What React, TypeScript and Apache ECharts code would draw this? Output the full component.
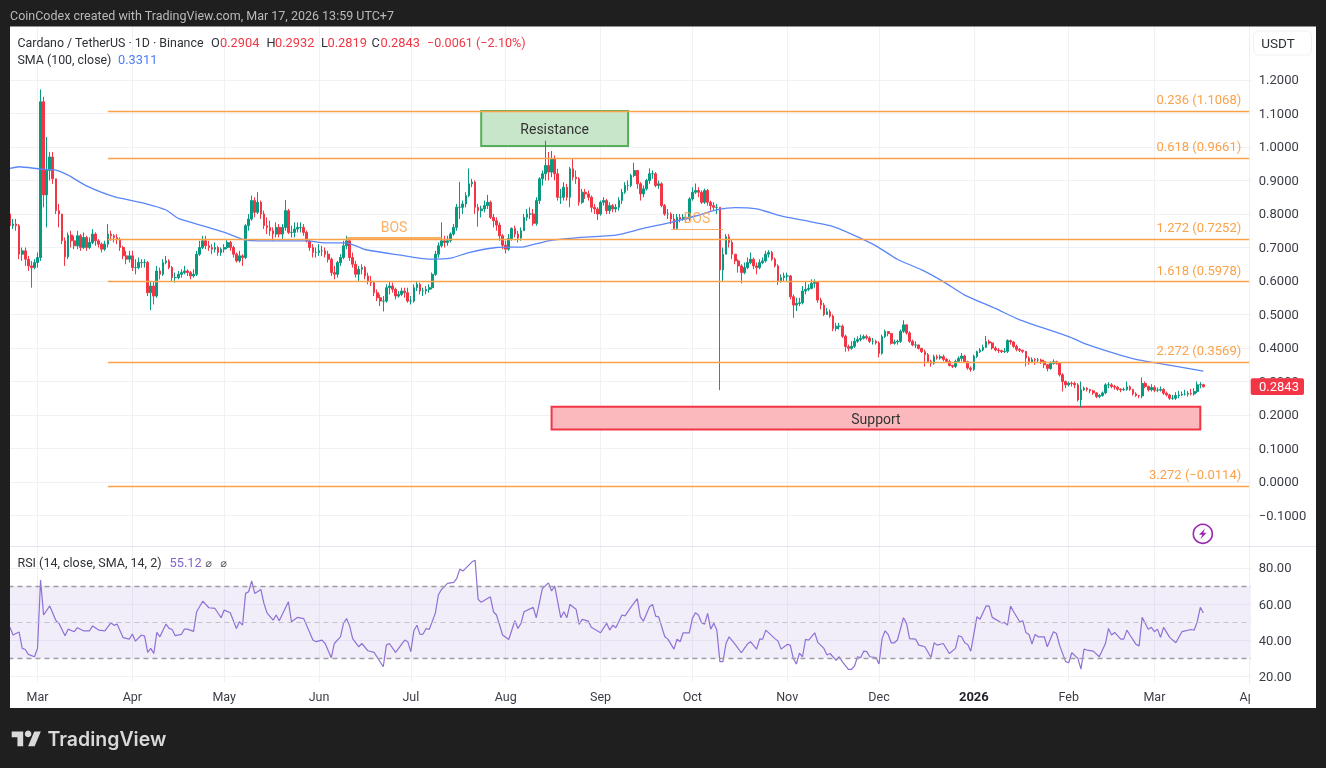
import React, { useEffect, useRef } from "react";
import * as echarts from "echarts";

// ---- Time scale ----
const firstDayUtc = Date.UTC(2025, 1, 20);
const dayCount = 406;
const monthTicks = [9, 40, 70, 101, 131, 162, 193, 223, 254, 284, 315, 346, 374, 405];
const monthLabels = ["Mar", "Apr", "May", "Jun", "Jul", "Aug", "Sep", "Oct", "Nov", "Dec", "2026", "Feb", "Mar", "Apr"];

// ---- Candles, one value a day from Feb 20 2025 ----
const firstOpen = 0.8;
const closes = [
  0.765, 0.77, 0.765, 0.68, 0.69, 0.665, 0.645, 0.64, 0.655, 0.67,
  1.135, 0.857, 0.93, 0.97, 0.905, 0.81, 0.8, 0.72, 0.672, 0.737,
  0.72, 0.705, 0.735, 0.7, 0.73, 0.7, 0.715, 0.74, 0.72, 0.71,
  0.695, 0.71, 0.74, 0.735, 0.73, 0.725, 0.7, 0.675, 0.665, 0.675,
  0.64, 0.64, 0.655, 0.655, 0.655, 0.565, 0.585, 0.555, 0.63, 0.62,
  0.655, 0.66, 0.64, 0.61, 0.61, 0.62, 0.625, 0.63, 0.625, 0.615,
  0.62, 0.68, 0.7, 0.72, 0.705, 0.7, 0.695, 0.7, 0.685, 0.695,
  0.7, 0.715, 0.7, 0.68, 0.66, 0.675, 0.67, 0.765, 0.785, 0.84,
  0.805, 0.835, 0.8, 0.765, 0.76, 0.75, 0.74, 0.76, 0.74, 0.76,
  0.81, 0.745, 0.745, 0.755, 0.76, 0.76, 0.745, 0.72, 0.7, 0.685,
  0.685, 0.69, 0.69, 0.68, 0.665, 0.625, 0.62, 0.655, 0.67, 0.705,
  0.72, 0.67, 0.65, 0.62, 0.635, 0.64, 0.615, 0.6, 0.595, 0.565,
  0.55, 0.54, 0.54, 0.58, 0.585, 0.575, 0.555, 0.56, 0.57, 0.565,
  0.54, 0.54, 0.58, 0.59, 0.57, 0.57, 0.575, 0.58, 0.62, 0.68,
  0.705, 0.72, 0.715, 0.72, 0.74, 0.76, 0.82, 0.82, 0.83, 0.855,
  0.89, 0.895, 0.82, 0.81, 0.815, 0.825, 0.835, 0.79, 0.78, 0.767,
  0.735, 0.707, 0.695, 0.727, 0.757, 0.74, 0.728, 0.75, 0.79, 0.8,
  0.8, 0.772, 0.84, 0.905, 0.92, 0.945, 0.925, 0.965, 0.92, 0.85,
  0.85, 0.88, 0.85, 0.935, 0.91, 0.905, 0.835, 0.865, 0.86, 0.85,
  0.82, 0.815, 0.8, 0.835, 0.84, 0.81, 0.825, 0.815, 0.82, 0.84,
  0.865, 0.885, 0.885, 0.915, 0.93, 0.89, 0.86, 0.875, 0.9, 0.92,
  0.92, 0.885, 0.89, 0.825, 0.8, 0.8, 0.785, 0.757, 0.79, 0.785,
  0.79, 0.785, 0.845, 0.865, 0.87, 0.865, 0.835, 0.87, 0.835, 0.825,
  0.82, 0.82, 0.633, 0.68, 0.732, 0.715, 0.68, 0.66, 0.645, 0.625,
  0.64, 0.655, 0.665, 0.645, 0.64, 0.655, 0.66, 0.68, 0.685, 0.665,
  0.645, 0.6, 0.61, 0.615, 0.615, 0.553, 0.528, 0.533, 0.535, 0.57,
  0.575, 0.578, 0.593, 0.598, 0.543, 0.528, 0.5, 0.508, 0.495, 0.458,
  0.465, 0.465, 0.435, 0.404, 0.399, 0.405, 0.42, 0.425, 0.429, 0.434,
  0.43, 0.42, 0.42, 0.415, 0.384, 0.434, 0.449, 0.443, 0.414, 0.418,
  0.42, 0.45, 0.469, 0.445, 0.42, 0.409, 0.409, 0.399, 0.389, 0.38,
  0.36, 0.354, 0.374, 0.37, 0.374, 0.366, 0.36, 0.348, 0.345, 0.36,
  0.369, 0.376, 0.359, 0.34, 0.336, 0.375, 0.389, 0.394, 0.402, 0.419,
  0.415, 0.4, 0.394, 0.392, 0.389, 0.39, 0.422, 0.418, 0.405, 0.396,
  0.393, 0.39, 0.37, 0.359, 0.365, 0.364, 0.364, 0.36, 0.35, 0.339,
  0.354, 0.359, 0.354, 0.32, 0.3, 0.29, 0.295, 0.294, 0.29, 0.245,
  0.275, 0.28, 0.276, 0.272, 0.266, 0.255, 0.258, 0.266, 0.29, 0.29,
  0.285, 0.283, 0.277, 0.275, 0.276, 0.284, 0.276, 0.263, 0.258, 0.257,
  0.294, 0.285, 0.275, 0.282, 0.274, 0.274, 0.276, 0.265, 0.26, 0.25,
  0.25, 0.258, 0.26, 0.262, 0.262, 0.265, 0.263, 0.27, 0.29, 0.2904,
  0.2843,
];
const highs = [
  0.81, 0.785, 0.785, 0.77, 0.7, 0.7, 0.675, 0.66, 0.665, 0.685,
  1.172, 1.15, 1.03, 0.985, 0.985, 0.905, 0.83, 0.8, 0.73, 0.745,
  0.75, 0.735, 0.75, 0.74, 0.745, 0.735, 0.73, 0.755, 0.745, 0.725,
  0.715, 0.72, 0.77, 0.75, 0.74, 0.74, 0.73, 0.705, 0.69, 0.69,
  0.69, 0.665, 0.67, 0.665, 0.665, 0.66, 0.6, 0.6, 0.645, 0.64,
  0.665, 0.675, 0.665, 0.645, 0.625, 0.63, 0.635, 0.645, 0.635, 0.63,
  0.635, 0.69, 0.72, 0.735, 0.735, 0.72, 0.71, 0.715, 0.705, 0.7,
  0.71, 0.725, 0.72, 0.705, 0.685, 0.69, 0.68, 0.77, 0.8, 0.855,
  0.85, 0.865, 0.84, 0.81, 0.79, 0.78, 0.76, 0.775, 0.77, 0.77,
  0.842, 0.815, 0.765, 0.775, 0.775, 0.775, 0.77, 0.75, 0.725, 0.71,
  0.7, 0.71, 0.705, 0.7, 0.69, 0.67, 0.645, 0.66, 0.68, 0.72,
  0.735, 0.725, 0.685, 0.66, 0.645, 0.65, 0.645, 0.625, 0.615, 0.6,
  0.575, 0.56, 0.555, 0.59, 0.6, 0.595, 0.58, 0.57, 0.58, 0.58,
  0.58, 0.555, 0.59, 0.6, 0.595, 0.58, 0.585, 0.59, 0.625, 0.69,
  0.715, 0.775, 0.735, 0.735, 0.745, 0.77, 0.83, 0.896, 0.84, 0.865,
  0.936, 0.905, 0.9, 0.83, 0.825, 0.84, 0.857, 0.84, 0.8, 0.79,
  0.775, 0.74, 0.72, 0.74, 0.76, 0.765, 0.75, 0.76, 0.8, 0.815,
  0.82, 0.815, 0.85, 0.91, 0.93, 1.019, 0.985, 0.988, 0.975, 0.935,
  0.875, 0.895, 0.89, 0.94, 0.964, 0.93, 0.91, 0.875, 0.875, 0.87,
  0.855, 0.83, 0.82, 0.84, 0.85, 0.845, 0.835, 0.83, 0.83, 0.85,
  0.875, 0.895, 0.9, 0.92, 0.953, 0.93, 0.895, 0.885, 0.905, 0.936,
  0.93, 0.925, 0.9, 0.895, 0.83, 0.815, 0.805, 0.8, 0.8, 0.8,
  0.8, 0.8, 0.85, 0.88, 0.891, 0.88, 0.87, 0.876, 0.875, 0.84,
  0.835, 0.83, 0.82, 0.7, 0.74, 0.74, 0.725, 0.68, 0.665, 0.65,
  0.655, 0.67, 0.685, 0.67, 0.655, 0.665, 0.67, 0.69, 0.692, 0.69,
  0.67, 0.65, 0.62, 0.625, 0.625, 0.618, 0.56, 0.55, 0.55, 0.585,
  0.6, 0.59, 0.605, 0.605, 0.6, 0.55, 0.535, 0.52, 0.515, 0.5,
  0.475, 0.475, 0.47, 0.44, 0.41, 0.42, 0.43, 0.435, 0.44, 0.44,
  0.44, 0.435, 0.43, 0.425, 0.42, 0.44, 0.455, 0.45, 0.445, 0.425,
  0.425, 0.455, 0.483, 0.47, 0.45, 0.425, 0.42, 0.41, 0.4, 0.395,
  0.385, 0.365, 0.38, 0.38, 0.38, 0.38, 0.37, 0.365, 0.35, 0.365,
  0.375, 0.385, 0.38, 0.362, 0.345, 0.38, 0.392, 0.4, 0.41, 0.436,
  0.425, 0.418, 0.405, 0.4, 0.395, 0.4, 0.426, 0.425, 0.42, 0.41,
  0.4, 0.395, 0.39, 0.375, 0.372, 0.37, 0.37, 0.368, 0.365, 0.352,
  0.36, 0.366, 0.362, 0.355, 0.325, 0.303, 0.3, 0.3, 0.3, 0.295,
  0.3, 0.285, 0.283, 0.278, 0.275, 0.268, 0.262, 0.27, 0.295, 0.298,
  0.295, 0.29, 0.286, 0.28, 0.282, 0.3, 0.288, 0.278, 0.268, 0.26,
  0.312, 0.3, 0.288, 0.292, 0.288, 0.282, 0.285, 0.28, 0.27, 0.263,
  0.26, 0.268, 0.272, 0.27, 0.275, 0.272, 0.278, 0.28, 0.3, 0.298,
  0.2932,
];
const lows = [
  0.755, 0.755, 0.75, 0.665, 0.66, 0.645, 0.63, 0.58, 0.635, 0.64,
  0.66, 0.82, 0.76, 0.9, 0.89, 0.8, 0.76, 0.71, 0.645, 0.665,
  0.7, 0.695, 0.695, 0.69, 0.695, 0.69, 0.695, 0.71, 0.705, 0.7,
  0.685, 0.69, 0.7, 0.72, 0.715, 0.71, 0.69, 0.665, 0.65, 0.655,
  0.63, 0.62, 0.635, 0.64, 0.64, 0.555, 0.513, 0.53, 0.55, 0.605,
  0.615, 0.65, 0.635, 0.6, 0.595, 0.605, 0.61, 0.62, 0.615, 0.605,
  0.61, 0.615, 0.675, 0.695, 0.695, 0.69, 0.68, 0.685, 0.675, 0.675,
  0.685, 0.695, 0.69, 0.67, 0.655, 0.655, 0.645, 0.665, 0.75, 0.78,
  0.79, 0.8, 0.785, 0.755, 0.74, 0.735, 0.72, 0.73, 0.73, 0.725,
  0.75, 0.74, 0.73, 0.73, 0.745, 0.745, 0.735, 0.715, 0.69, 0.67,
  0.67, 0.675, 0.675, 0.67, 0.655, 0.615, 0.605, 0.61, 0.645, 0.665,
  0.695, 0.66, 0.64, 0.61, 0.6, 0.62, 0.605, 0.59, 0.585, 0.555,
  0.54, 0.525, 0.509, 0.535, 0.56, 0.565, 0.545, 0.55, 0.555, 0.55,
  0.535, 0.53, 0.535, 0.57, 0.56, 0.555, 0.56, 0.565, 0.575, 0.615,
  0.67, 0.7, 0.7, 0.705, 0.715, 0.735, 0.75, 0.785, 0.8, 0.82,
  0.85, 0.88, 0.8, 0.762, 0.79, 0.805, 0.815, 0.785, 0.76, 0.75,
  0.72, 0.695, 0.682, 0.69, 0.72, 0.73, 0.715, 0.72, 0.75, 0.78,
  0.785, 0.765, 0.765, 0.83, 0.885, 0.9, 0.9, 0.91, 0.9, 0.84,
  0.83, 0.84, 0.84, 0.82, 0.9, 0.89, 0.825, 0.83, 0.845, 0.84,
  0.805, 0.8, 0.782, 0.795, 0.825, 0.8, 0.8, 0.805, 0.805, 0.81,
  0.83, 0.86, 0.87, 0.88, 0.91, 0.875, 0.84, 0.85, 0.87, 0.89,
  0.905, 0.88, 0.875, 0.82, 0.795, 0.785, 0.77, 0.754, 0.755, 0.775,
  0.78, 0.775, 0.78, 0.84, 0.86, 0.85, 0.83, 0.83, 0.825, 0.81,
  0.81, 0.8, 0.274, 0.6, 0.68, 0.7, 0.665, 0.65, 0.625, 0.593,
  0.62, 0.635, 0.65, 0.635, 0.62, 0.635, 0.65, 0.655, 0.67, 0.66,
  0.64, 0.588, 0.595, 0.6, 0.6, 0.545, 0.49, 0.51, 0.525, 0.53,
  0.56, 0.57, 0.575, 0.58, 0.535, 0.515, 0.495, 0.5, 0.49, 0.45,
  0.45, 0.455, 0.43, 0.389, 0.39, 0.395, 0.4, 0.415, 0.42, 0.425,
  0.425, 0.415, 0.41, 0.41, 0.372, 0.38, 0.43, 0.435, 0.41, 0.41,
  0.41, 0.415, 0.445, 0.44, 0.415, 0.405, 0.4, 0.395, 0.385, 0.345,
  0.355, 0.344, 0.35, 0.365, 0.365, 0.36, 0.355, 0.345, 0.34, 0.34,
  0.355, 0.36, 0.355, 0.335, 0.329, 0.332, 0.37, 0.385, 0.39, 0.4,
  0.41, 0.395, 0.39, 0.385, 0.385, 0.385, 0.385, 0.41, 0.4, 0.39,
  0.388, 0.385, 0.345, 0.35, 0.355, 0.35, 0.355, 0.352, 0.34, 0.33,
  0.335, 0.35, 0.35, 0.315, 0.27, 0.28, 0.285, 0.285, 0.28, 0.24,
  0.223, 0.272, 0.27, 0.265, 0.26, 0.25, 0.25, 0.255, 0.262, 0.28,
  0.28, 0.276, 0.272, 0.268, 0.272, 0.272, 0.272, 0.258, 0.254, 0.25,
  0.25, 0.28, 0.27, 0.27, 0.268, 0.268, 0.27, 0.26, 0.255, 0.245,
  0.245, 0.245, 0.25, 0.256, 0.258, 0.255, 0.258, 0.258, 0.265, 0.28,
  0.2819,
];

// ---- SMA (100, close): turning points of the curve ----
const smaDays = [0, 3, 10, 15, 19, 25, 34, 44, 51, 55, 64, 71, 77, 84, 97, 103, 110, 116, 127, 137, 144, 150, 159, 168, 176, 185, 198, 207, 216, 224, 231, 237, 244, 253, 260, 268, 275, 283, 290, 298, 305, 312, 322, 330, 346, 351, 361, 368, 374, 390];
const smaValues = [0.936, 0.941, 0.934, 0.931, 0.916, 0.884, 0.852, 0.832, 0.812, 0.787, 0.762, 0.742, 0.722, 0.72, 0.72, 0.714, 0.714, 0.694, 0.678, 0.665, 0.668, 0.685, 0.7, 0.702, 0.72, 0.729, 0.737, 0.757, 0.775, 0.794, 0.812, 0.819, 0.815, 0.792, 0.78, 0.765, 0.74, 0.705, 0.665, 0.633, 0.598, 0.558, 0.518, 0.484, 0.434, 0.414, 0.384, 0.366, 0.356, 0.3311];

// ---- RSI (14): vertices of the line ----
const rsiDays = [0, 1, 3, 4, 5, 6, 8, 9, 10, 11, 13, 15, 16, 18, 19, 21, 22, 24, 26, 27, 29, 31, 33, 34, 35, 37, 39, 40, 41, 43, 44, 45, 46, 47, 48, 49, 51, 52, 53, 54, 56, 57, 58, 60, 61, 63, 65, 67, 69, 70, 72, 74, 75, 76, 77, 78, 79, 80, 82, 83, 84, 86, 87, 88, 91, 92, 94, 96, 99, 100, 102, 103, 105, 106, 108, 109, 110, 111, 112, 114, 115, 117, 119, 122, 123, 124, 126, 127, 129, 130, 131, 132, 133, 134, 135, 136, 137, 139, 140, 141, 143, 145, 146, 147, 148, 151, 152, 153, 154, 157, 158, 159, 161, 163, 165, 166, 167, 168, 171, 172, 174, 176, 177, 178, 180, 181, 182, 183, 185, 186, 187, 189, 190, 193, 195, 196, 197, 198, 200, 201, 203, 205, 206, 207, 209, 210, 211, 212, 214, 215, 217, 218, 219, 220, 222, 223, 224, 225, 226, 227, 228, 229, 230, 231, 232, 233, 234, 235, 237, 239, 241, 242, 244, 245, 246, 247, 250, 251, 252, 254, 255, 256, 257, 258, 259, 260, 261, 263, 264, 266, 267, 268, 270, 271, 272, 274, 275, 276, 277, 278, 279, 280, 281, 283, 284, 285, 286, 287, 288, 289, 290, 292, 293, 294, 296, 297, 299, 301, 302, 303, 305, 307, 309, 310, 311, 312, 313, 314, 316, 317, 319, 320, 321, 324, 325, 326, 327, 328, 330, 331, 332, 333, 334, 335, 336, 338, 339, 341, 342, 343, 345, 346, 347, 349, 350, 351, 352, 354, 356, 358, 359, 360, 361, 363, 364, 365, 366, 368, 369, 370, 372, 373, 374, 375, 376, 377, 379, 381, 383, 386, 387, 388, 389, 390];
const rsiValues = [47.2, 43, 44.6, 35.6, 35, 32.3, 31, 35.6, 73.2, 54, 59, 51, 49.4, 42.6, 46.2, 44.8, 47, 45.3, 45.3, 48, 45.7, 45.3, 49.7, 48.3, 49, 41.5, 40.7, 43.5, 39.6, 43, 42.4, 33.4, 35.6, 32.8, 44.4, 42, 49, 46.6, 46, 42.6, 43.3, 46.2, 46.2, 45, 55.8, 61.6, 58, 57.6, 52.5, 56.7, 55.2, 46.6, 50.3, 48.4, 65.9, 66.8, 72.8, 65.9, 68, 60.4, 55.2, 51.2, 54, 50.8, 61.3, 50.3, 52.7, 52, 40.2, 39.3, 40.2, 38.3, 30.5, 38.3, 42, 49.4, 52.1, 48, 41, 36.5, 38.3, 34.3, 33.4, 25.5, 37.4, 38.3, 33.4, 35.6, 40.2, 39.3, 33.8, 45.3, 48.4, 43.3, 43.5, 46.6, 46, 54.9, 65, 68, 71.4, 72, 74.1, 79.3, 78.2, 83.3, 84.2, 62.6, 61, 64, 55.8, 54, 43, 40.5, 50.8, 46.6, 49.4, 55.8, 58.2, 52.5, 68.6, 71.7, 67.2, 70, 52.5, 55.8, 52.5, 59.8, 57.2, 48.8, 51.6, 50.6, 47.2, 44.2, 49.4, 45.7, 48.4, 47, 54, 53.5, 58.5, 63, 53, 50.6, 58.5, 59.8, 53.4, 53, 42, 40.7, 35.2, 40.7, 39.3, 44.2, 44.2, 52, 55.2, 54, 49.7, 49, 54.9, 46.2, 49.4, 45.7, 28.3, 28.3, 38.3, 42, 37.8, 33.2, 38, 39.3, 35.2, 40.7, 40.7, 45.7, 41, 39.6, 35.2, 37.8, 37.4, 30, 27, 33, 31, 40.6, 40.2, 44.2, 38.9, 35.6, 32, 32.8, 29, 31, 28.3, 24, 24, 25.9, 31, 30.5, 34.1, 33.8, 31, 30.6, 27, 41, 45.3, 43.3, 38.7, 38.7, 40.2, 52.5, 49.4, 41, 40.7, 37.4, 36.5, 30.6, 38.7, 37.4, 38.3, 32.8, 35.6, 42.6, 42, 38.7, 37.8, 34.1, 53, 51.7, 59, 58.9, 52.7, 49.7, 49.9, 48.4, 58.9, 55.8, 50.3, 50.8, 44.4, 43.3, 38, 43.3, 42, 42, 36.5, 44.8, 43.8, 37.4, 28.3, 27.7, 33.2, 30.1, 24.2, 35.2, 34.7, 34.1, 31, 38.3, 46.6, 43, 44.4, 40.7, 40.7, 45.7, 43, 37.8, 37, 52.7, 46.2, 47.2, 44.8, 46.2, 41.7, 47.2, 41.7, 38.7, 44.8, 46, 45.7, 50.3, 58.2, 55.12];

// ---- Levels and ticks ----
const fibRatios = ["0.236", "0.618", "1.272", "1.618", "2.272", "3.272"];
const fibPrices = [1.1068, 0.9661, 0.7252, 0.5978, 0.3569, -0.0114];
const priceTicks = [-0.1, 0, 0.1, 0.2, 0.3, 0.4, 0.5, 0.6, 0.7, 0.8, 0.9, 1.0, 1.1, 1.2];
const rsiTicks = [20, 40, 60, 80];
const rsiBands = [70, 50, 30];

const FONT = "Roboto, 'Liberation Sans', sans-serif";
const LABEL_COLOR = "#3a3d46";
const UP = "#089981";
const DOWN = "#F23645";
const FIB = "#F9A24A";

const tickSet = new Set(monthTicks);
const isMonth = (i: number) => tickSet.has(i);

function buildOption() {
  const categories: string[] = [];
  for (let i = 0; i < dayCount; i++) {
    categories.push(new Date(firstDayUtc + i * 86400000).toISOString().slice(0, 10));
  }
  const candles = closes.map((c, i) => [i === 0 ? firstOpen : closes[i - 1], c, lows[i], highs[i]]);
  const sma = smaDays.map((d, i) => [d, smaValues[i]]);
  const rsi = rsiDays.map((d, i) => [d, rsiValues[i]]);

  const fibLines = fibPrices.map((p, i) => [
    {
      coord: [32, p],
      label: {
        show: true,
        position: "insideEndTop",
        distance: [8, 5],
        formatter: `${fibRatios[i]} (${p.toFixed(4).replace("-", "\u2212")})`,
        color: "#F9A24A",
        fontFamily: FONT,
        fontSize: 13,
      },
    },
    { coord: [405, p] },
  ]);
  const bosLine = (a: number, b: number, p: number, width: number) => [
    {
      coord: [a, p],
      lineStyle: { width, color: "#F9A24A", opacity: 0.85 },
      label: {
        show: true,
        position: "insideMiddleTop",
        distance: [0, 4],
        formatter: "BOS",
        color: "#F9A24A",
        fontFamily: FONT,
        fontSize: 14,
      },
    },
    { coord: [b, p] },
  ];

  const makeText = (x: number, y: number, text: string, fill: string, size = 12.5, extra: any = {}) => ({
    type: "text",
    x,
    y,
    z: 60,
    silent: true,
    style: { text, fill, font: `${extra.weight || 400} ${size}px ${extra.family || FONT}`, textVerticalAlign: "middle", textAlign: extra.align || "left" },
  });

  const graphic = [
    { type: "rect", z: -5, silent: true, shape: { x: 10, y: 26.5, width: 1306, height: 681.5 }, style: { fill: "#ffffff" } },
    { type: "rect", z: 50, silent: true, shape: { x: 0, y: 0, width: 10, height: 768 }, style: { fill: "#1F1F1F" } },
    { type: "rect", z: 50, silent: true, shape: { x: 1250, y: 684, width: 66, height: 24 }, style: { fill: "#ffffff" } },
    { type: "line", z: 50, silent: true, shape: { x1: 1249.5, y1: 27, x2: 1249.5, y2: 684 }, style: { stroke: "#eeeef2", lineWidth: 1 } },
    { type: "line", z: 50, silent: true, shape: { x1: 10, y1: 546.5, x2: 1316, y2: 546.5 }, style: { stroke: "#e6e3f2", lineWidth: 1 } },
    makeText(10, 15, "CoinCodex created with TradingView.com, Mar 17, 2026 13:59 UTC+7", "#B9B9B9", 12.5),
    makeText(17.5, 42, "Cardano / TetherUS \u00b7 1D \u00b7 Binance", "#2E3138", 12.4),
    makeText(211, 42, "O", "#2E3138", 12.8),
    makeText(220, 42, "0.2904", DOWN, 12.8),
    makeText(266.5, 42, "H", "#2E3138", 12.8),
    makeText(275, 42, "0.2932", DOWN, 12.8),
    makeText(321, 42, "L", "#2E3138", 12.8),
    makeText(327.5, 42, "0.2819", DOWN, 12.8),
    makeText(371.5, 42, "C", "#2E3138", 12.8),
    makeText(380.5, 42, "0.2843", DOWN, 12.8),
    makeText(427, 42, "\u22120.0061 (\u22122.10%)", DOWN, 12.6),
    makeText(17.5, 59, "SMA (100, close)", "#2E3138", 12.4),
    makeText(118, 59, "0.3311", "#4F7DF5", 12.8),
    makeText(17.5, 562.5, "RSI (14, close, SMA, 14, 2)", "#2E3138", 12.5),
    makeText(169.5, 562.5, "55.12", "#8566CC", 12.8),
    makeText(205.5, 563, "\u2300", "#55585f", 11, { family: "'DejaVu Sans'" }),
    makeText(220.5, 563, "\u2300", "#55585f", 11, { family: "'DejaVu Sans'" }),
    // USDT box
    { type: "rect", z: 55, silent: true, shape: { x: 1253.5, y: 31, width: 58, height: 24, r: 5 }, style: { fill: "#ffffff", stroke: "#F0F1F5", lineWidth: 1 } },
    makeText(1278, 43, "USDT", "#2E3138", 13.5, { align: "center" }),
    // last price tag
    { type: "rect", z: 55, silent: true, shape: { x: 1250.7, y: 378.3, width: 53.3, height: 16.7, r: 2 }, style: { fill: DOWN } },
    makeText(1259, 386.7, "0.2843", "#ffffff", 13),
    // lightning badge
    { type: "circle", z: 55, silent: true, shape: { cx: 1202.8, cy: 533.8, r: 9.5 }, style: { fill: "#ffffff", stroke: "#9C27B0", lineWidth: 1.6 } },
    { type: "polygon", z: 56, silent: true, shape: { points: [[1205, 528.5], [1199, 534.8], [1202.3, 534.8], [1200.4, 539.2], [1206.6, 532.8], [1203.3, 532.8]] }, style: { fill: "#9C27B0" } },
    // TradingView mark
    { type: "tvLogo", z: 60, silent: true, x: 11.7, y: 728.2, scaleX: 0.82, scaleY: 0.82, style: { fill: "#D9D9D9" } },
    { type: "circle", z: 60, silent: true, shape: { cx: 28.1, cy: 733.9, r: 3.3 }, style: { fill: "#D9D9D9" } },
    makeText(47.5, 739, "TradingView", "#D9D9D9", 19.5, { weight: 600, family: "Inter, Roboto, sans-serif" }),
  ];

  const gridLine = { color: "#F1F1F5", width: 1 };

  return {
    animation: false,
    backgroundColor: "#1F1F1F",
    textStyle: { fontFamily: FONT },
    grid: [
      { left: 8.43, top: 27, width: 1242.36, height: 519 },
      { left: 8.43, top: 547, width: 1242.36, height: 135 },
    ],
    xAxis: [
      {
        type: "category",
        gridIndex: 0,
        data: categories,
        boundaryGap: true,
        axisLine: { show: false },
        axisTick: { show: false, alignWithLabel: true },
        axisLabel: { show: false },
        splitLine: { show: true, alignWithLabel: true, interval: (i: number) => isMonth(i), lineStyle: gridLine },
      },
      {
        type: "category",
        gridIndex: 1,
        data: categories,
        boundaryGap: true,
        axisLine: { show: false },
        axisTick: { show: false, alignWithLabel: true },
        axisLabel: {
          show: true,
          interval: (i: number) => isMonth(i),
          margin: 8,
          color: LABEL_COLOR,
          fontFamily: FONT,
          fontSize: 12.5,
          hideOverlap: false,
          formatter: (_: string, i: number) => {
            const label = monthLabels[monthTicks.indexOf(i)] ?? "";
            return label === "2026" ? `{b|${label}}` : label;
          },
          rich: { b: { fontWeight: 700, fontSize: 13, color: "#1f2129", fontFamily: FONT } },
        },
        splitLine: { show: true, alignWithLabel: true, interval: (i: number) => isMonth(i), lineStyle: gridLine },
      },
    ],
    yAxis: [
      {
        type: "value",
        gridIndex: 0,
        position: "right",
        min: -0.1911,
        max: 1.3582,
        axisLine: { show: false },
        axisTick: { show: false, customValues: priceTicks },
        axisLabel: {
          customValues: priceTicks,
          margin: 8,
          color: LABEL_COLOR,
          fontFamily: FONT,
          fontSize: 13,
          formatter: (v: number) => v.toFixed(4).replace("-", "\u2212"),
        },
        splitLine: { show: true, lineStyle: gridLine },
      },
      {
        type: "value",
        gridIndex: 1,
        position: "right",
        min: 17.1,
        max: 91.45,
        axisLine: { show: false },
        axisTick: { show: false, customValues: rsiTicks },
        axisLabel: {
          customValues: rsiTicks,
          margin: 8,
          color: LABEL_COLOR,
          fontFamily: FONT,
          fontSize: 13,
          formatter: (v: number) => v.toFixed(2),
        },
        splitLine: { show: true, lineStyle: gridLine },
      },
    ],
    series: [
      {
        name: "ADAUSDT",
        type: "candlestick",
        xAxisIndex: 0,
        yAxisIndex: 0,
        barWidth: 2.2,
        itemStyle: { color: UP, color0: DOWN, borderColor: UP, borderColor0: DOWN, borderWidth: 1 },
        data: candles,
        markLine: {
          silent: true,
          symbol: "none",
          animation: false,
          lineStyle: { color: FIB, width: 1.3, type: "solid" },
          data: [...fibLines, bosLine(110, 141, 0.728, 2), bosLine(216, 233, 0.755, 1.2)],
        },
        markArea: {
          silent: true,
          animation: false,
          data: [
            [
              {
                coord: [154, 1.1075],
                itemStyle: { color: "#C8E6C9", borderColor: "#55AE5A", borderWidth: 2 },
                label: { show: true, position: "inside", offset: [0, 1], formatter: "Resistance", color: "#333", fontFamily: FONT, fontSize: 14 },
              },
              { coord: [202, 1.003] },
            ],
            [
              {
                coord: [177, 0.2245],
                itemStyle: { color: "#FBB9BE", borderColor: "#F23645", borderWidth: 2 },
                label: { show: true, position: "inside", offset: [0, 1], formatter: "Support", color: "#333", fontFamily: FONT, fontSize: 14 },
              },
              { coord: [389, 0.157] },
            ],
          ],
        },
      },
      {
        name: "SMA",
        type: "line",
        xAxisIndex: 0,
        yAxisIndex: 0,
        data: sma,
        smooth: 0.2,
        showSymbol: false,
        lineStyle: { color: "#5A86F7", width: 1.3 },
      },
      {
        name: "RSI",
        type: "line",
        xAxisIndex: 1,
        yAxisIndex: 1,
        data: rsi,
        showSymbol: false,
        lineStyle: { color: "#8F70D6", width: 1.2 },
        markLine: {
          silent: true,
          symbol: "none",
          animation: false,
          label: { show: false },
          data: rsiBands.map((v) => ({
            yAxis: v,
            lineStyle: { color: v === 50 ? "#C4C2CA" : "#A09DA6", width: v === 50 ? 1 : 1.3, type: [5, 4] },
          })),
        },
        markArea: {
          silent: true,
          animation: false,
          itemStyle: { color: "rgba(126,87,194,0.1)" },
          data: [[{ yAxis: rsiBands[0] }, { yAxis: rsiBands[2] }]],
        },
      },
    ],
    graphic,
  };
}

echarts.graphic.registerShape(
  "tvLogo",
  echarts.graphic.extendPath("M14 22H7V11H0V4h14v18zM28 22h-8l7.5-18h8L28 22z", {})
);

export default function App() {
  const ref = useRef<HTMLDivElement>(null);
  useEffect(() => {
    if (!ref.current) return;
    const chart = echarts.init(ref.current, undefined, { renderer: "svg" });
    chart.setOption(buildOption() as any);
    return () => chart.dispose();
  }, []);
  // The reference is a soft, resampled screenshot; a slight blur gives its thin lines the same weight.
  return <div ref={ref} style={{ position: "absolute", left: 0, top: 0, width: 1326, height: 768, filter: "blur(0.5px)" }} />;
}
